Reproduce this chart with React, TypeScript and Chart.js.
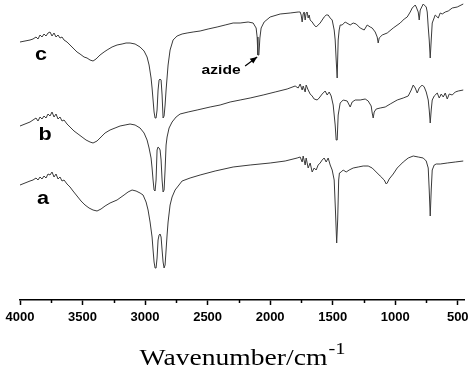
import React, { useEffect, useRef } from "react";
import { Chart, registerables } from "chart.js";

Chart.register(...registerables);

// Spectrum c (top) – wavenumber (cm-1) and offset transmittance (a.u.)
const WN_C = [4000,3960,3920,3896,3872,3856,3840,3824,3808,3792,3776,3760,3744,3728,3712,3696,3680,3664,3648,3624,3600,3576,3544,3520,3488,3464,3440,3416,3392,3360,3328,3304,3264,3224,3184,3152,3120,3080,3040,3008,2984,2968,2952,2944,2936,2928,2920,2912,2904,2896,2888,2880,2872,2864,2856,2848,2840,2832,2816,2800,2776,2744,2704,2664,2616,2560,2496,2424,2360,2296,2240,2176,2136,2112,2104,2098,2090,2082,2072,2048,2000,1920,1840,1776,1760,1752,1744,1736,1728,1720,1712,1704,1696,1688,1680,1664,1648,1632,1616,1600,1584,1568,1552,1536,1520,1504,1488,1480,1472,1464,1456,1448,1440,1424,1400,1360,1336,1312,1280,1248,1224,1200,1184,1160,1144,1136,1128,1104,1064,1016,960,928,904,880,864,840,832,816,808,800,776,752,744,736,728,720,712,704,680,656,640,624,600,576,544,504,456];
const T_C = [258,259,260,261,263,261,265,263,266,264,267,268,264,267,263,265,262,263,260,258,255,252,248,246,243,242,240,239,241,245,248,250,253,255,256,257,257,256,253,249,243,235,222,212,200,188,182,182,190,210,220,221,220,205,182,184,195,210,235,250,260,264,266,267,268,269,271,273,275,277,277,278,277,272,263,245,245,262,272,278,283,286,287,288,288,285,278,286,288,280,287,288,282,285,280,278,275,273,275,277,280,283,285,285,282,280,270,260,240,222,260,270,275,275,278,275,277,276,272,270,275,273,272,268,263,257,262,265,267,272,277,281,283,288,292,295,293,288,280,290,296,293,288,273,260,242,260,277,285,282,287,286,288,289,292,293,296];

// Spectrum b (middle)
const WN_B = [4000,3960,3920,3896,3872,3856,3840,3824,3808,3792,3776,3760,3744,3728,3712,3696,3680,3664,3648,3624,3600,3568,3536,3504,3472,3440,3416,3384,3352,3320,3280,3240,3200,3160,3120,3080,3040,3008,2984,2968,2952,2944,2936,2928,2920,2912,2904,2896,2888,2880,2872,2864,2856,2848,2840,2832,2824,2808,2784,2752,2720,2656,2584,2480,2400,2320,2240,2160,2056,1960,1864,1800,1776,1760,1744,1736,1720,1712,1696,1680,1664,1648,1624,1608,1584,1560,1544,1528,1512,1496,1480,1472,1464,1456,1440,1416,1384,1360,1344,1320,1280,1240,1216,1192,1184,1176,1168,1152,1120,1080,1040,984,936,896,872,856,840,824,808,784,768,752,736,728,720,712,704,688,664,648,632,616,600,584,568,544,520,496,456];
const T_B = [174,176,178,180,182,179,183,181,184,182,186,184,188,183,186,181,183,179,180,176,173,169,166,163,160,158,157,159,163,167,170,172,174,175,176,175,172,167,160,152,142,132,120,110,109,120,150,153,152,150,140,120,108,110,130,155,163,172,178,183,186,188,190,193,195,198,200,202,205,208,211,214,212,216,210,214,208,215,210,206,204,201,200,202,206,209,205,208,204,195,175,160,160,185,197,200,199,193,198,200,200,201,199,194,187,182,188,191,192,193,196,200,202,204,210,215,212,207,212,215,213,208,200,190,177,190,200,204,207,202,206,203,207,201,206,205,208,209,210];

// Spectrum a (bottom)
const WN_A = [4000,3960,3920,3896,3872,3856,3840,3824,3808,3792,3776,3760,3744,3728,3712,3696,3680,3664,3648,3624,3600,3576,3544,3512,3480,3448,3416,3384,3352,3320,3280,3224,3168,3136,3104,3072,3040,3016,2992,2976,2960,2944,2936,2928,2920,2912,2904,2896,2888,2880,2872,2864,2856,2848,2840,2832,2824,2816,2800,2784,2760,2704,2640,2560,2440,2296,2160,2000,1880,1784,1760,1744,1736,1720,1712,1696,1680,1664,1648,1632,1616,1600,1584,1568,1552,1536,1520,1504,1488,1478,1468,1460,1452,1446,1432,1416,1392,1368,1336,1296,1256,1216,1184,1152,1120,1088,1072,1064,1048,1016,984,960,936,896,856,816,776,752,736,728,720,712,704,688,672,640,584,520,456];
const T_A = [115,117,119,120,122,120,123,121,124,122,126,125,128,123,126,121,123,119,120,116,113,109,104,99,95,92,90,89,91,94,97,100,105,108,110,109,107,105,98,90,78,63,50,38,32,32,42,60,65,66,63,50,38,32,35,50,65,78,95,103,110,119,122,125,129,133,135,137,139,142,143,138,144,135,142,132,137,128,132,130,135,137,140,142,138,142,135,130,120,90,57,80,120,127,128,130,128,130,132,133,134,134,132,128,124,120,116,117,121,126,132,135,138,142,144,143,142,139,132,110,84,110,130,135,136,136,137,138,139];

const SERIES_NAMES = ["a", "b", "c"];
const TICK_VALUES = [4000, 3500, 3000, 2500, 2000, 1500, 1000, 500];
const MINOR_TICK_VALUES = [3750, 3250, 2750, 2250, 1750, 1250, 750];
const X_MIN = 450;
const X_MAX = 4000;
const AXIS_TITLE = "Wavenumber/cm";
const AXIS_TITLE_SUP = "-1";
const ANNOTATION_TEXT = "azide";

const SANS = 'Arial, "Liberation Sans", sans-serif';
const SERIF = '"Times New Roman", "Liberation Serif", serif';
const LINE_COLOR = "#3a3a3a";
const STRETCH = 1.2;

function stretchedText(ctx: CanvasRenderingContext2D, text: string, x: number, y: number, align: CanvasTextAlign) {
  ctx.save();
  ctx.translate(x, y);
  ctx.scale(STRETCH, 1);
  ctx.textAlign = align;
  ctx.fillText(text, 0, 0);
  ctx.restore();
}

const decorPlugin = {
  id: "decor",
  afterDraw(chart: any) {
    const ctx: CanvasRenderingContext2D = chart.ctx;
    const xs = chart.scales.x;
    const ys = chart.scales.y;
    const area = chart.chartArea;
    ctx.save();
    ctx.fillStyle = "#000";
    ctx.strokeStyle = "#000";

    // minor ticks
    ctx.lineWidth = 1.5;
    MINOR_TICK_VALUES.forEach((v) => {
      const px = Math.round(xs.getPixelForValue(v)) + 0.5;
      ctx.beginPath();
      ctx.moveTo(px, area.bottom);
      ctx.lineTo(px, area.bottom + 3);
      ctx.stroke();
    });

    // series letters
    ctx.font = `bold 18px ${SANS}`;
    ctx.textBaseline = "middle";
    const letterPos: Record<string, [number, number]> = { c: [3832, 245], b: [3800, 165], a: [3816, 101] };
    SERIES_NAMES.forEach((n) => {
      const [wx, wy] = letterPos[n];
      stretchedText(ctx, n, xs.getPixelForValue(wx), ys.getPixelForValue(wy), "center");
    });

    // azide annotation
    ctx.font = `bold 13px ${SANS}`;
    ctx.textBaseline = "middle";
    stretchedText(ctx, ANNOTATION_TEXT, xs.getPixelForValue(2392), ys.getPixelForValue(230), "center");
    const x0 = xs.getPixelForValue(2200), y0 = ys.getPixelForValue(234);
    const x1 = xs.getPixelForValue(2104), y1 = ys.getPixelForValue(243);
    ctx.lineWidth = 1.2;
    ctx.beginPath();
    ctx.moveTo(x0, y0);
    ctx.lineTo(x1, y1);
    ctx.stroke();
    const ang = Math.atan2(y1 - y0, x1 - x0);
    const L = 7, W = 3;
    ctx.beginPath();
    ctx.moveTo(x1, y1);
    ctx.lineTo(x1 - L * Math.cos(ang) + W * Math.sin(ang), y1 - L * Math.sin(ang) - W * Math.cos(ang));
    ctx.lineTo(x1 - L * Math.cos(ang) - W * Math.sin(ang), y1 - L * Math.sin(ang) + W * Math.cos(ang));
    ctx.closePath();
    ctx.fill();

    // axis title with superscript
    ctx.textBaseline = "alphabetic";
    ctx.font = `23px ${SERIF}`;
    const w1 = ctx.measureText(AXIS_TITLE).width * STRETCH;
    ctx.font = `17px ${SERIF}`;
    const w2 = ctx.measureText(AXIS_TITLE_SUP).width * STRETCH;
    const cx = (area.left + area.right) / 2;
    const start = cx - (w1 + w2) / 2;
    ctx.font = `23px ${SERIF}`;
    stretchedText(ctx, AXIS_TITLE, start, 365, "left");
    ctx.font = `17px ${SERIF}`;
    stretchedText(ctx, AXIS_TITLE_SUP, start + w1 + 1, 354, "left");
    ctx.restore();
  },
};

export default function App() {
  const ref = useRef<HTMLCanvasElement | null>(null);
  useEffect(() => {
    document.body.style.margin = "0";
    const canvas = ref.current;
    if (!canvas) return;
    const mk = (wn: number[], t: number[]) => wn.map((x, i) => ({ x, y: t[i] }));
    const chart = new Chart(canvas, {
      type: "line",
      data: {
        datasets: [
          { label: SERIES_NAMES[0], data: mk(WN_A, T_A) },
          { label: SERIES_NAMES[1], data: mk(WN_B, T_B) },
          { label: SERIES_NAMES[2], data: mk(WN_C, T_C) },
        ].map((d) => ({
          ...d,
          borderColor: LINE_COLOR,
          borderWidth: 1,
          pointRadius: 0,
          tension: 0,
          fill: false,
        })),
      },
      options: {
        animation: false,
        responsive: false,
        layout: { padding: { left: 20, right: 10, top: 0, bottom: 0 } },
        plugins: { legend: { display: false }, tooltip: { enabled: false }, title: { display: false } },
        scales: {
          x: {
            type: "linear",
            reverse: true,
            min: X_MIN,
            max: X_MAX,
            afterBuildTicks: (scale: any) => {
              scale.ticks = TICK_VALUES.map((v) => ({ value: v }));
            },
            afterFit: (scale: any) => {
              scale.height = 70;
            },
            grid: { drawOnChartArea: false, drawTicks: true, tickLength: 5, tickColor: "#000", tickWidth: 1.5 },
            border: { display: true, color: "#000", width: 1.5 },
            ticks: {
              autoSkip: false,
              maxRotation: 0,
              padding: 5,
              color: "#000",
              font: { family: SANS, size: 13, weight: "bold" },
              callback: (v: any) => String(v),
            },
          },
          y: { display: false, min: 0, max: 300 },
        },
      },
      plugins: [decorPlugin],
    } as any);
    return () => chart.destroy();
  }, []);
  return <canvas ref={ref} width={474} height={370} style={{ display: "block" }} />;
}
